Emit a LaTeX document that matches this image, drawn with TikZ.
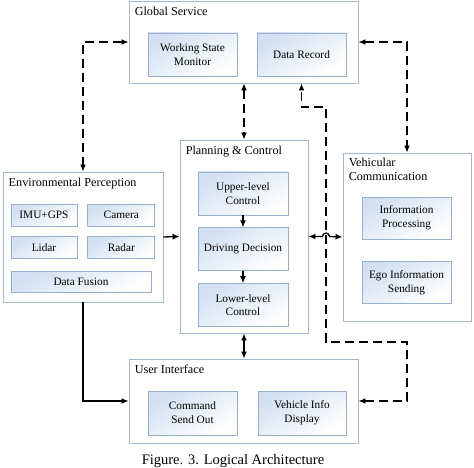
\documentclass[tikz,border=0pt]{standalone}
\usepackage{fontspec}
\setmainfont{Liberation Serif}
\usepackage{tikz}
\usetikzlibrary{positioning,arrows.meta,calc}
\definecolor{outline}{HTML}{A3B9D2}
\definecolor{inline}{HTML}{98B0CE}
\definecolor{infill}{HTML}{D2E0F2}
\tikzset{
  group/.style={draw=outline, fill=white, line width=0.9pt, inner sep=0pt},
  unit/.style={draw=inline, line width=0.8pt, top color=infill, bottom color=white, shading angle=30,
               align=center, font=\fontsize{11.3}{13.8}\selectfont, inner sep=0pt},
  ttl/.style={anchor=north west, align=left, font=\fontsize{12.2}{13.8}\selectfont, inner sep=0pt},
  flow/.style={-{Latex[length=7pt,width=6pt]}, line width=1.3pt, draw=black},
  dflow/.style={{Latex[length=7pt,width=6pt]}-{Latex[length=7pt,width=6pt]}, line width=1.3pt,
                draw=black, dash pattern=on 9pt off 5pt},
}

\begin{document}
\begin{tikzpicture}[x=1pt, y=-1pt]
  \useasboundingbox (0,0) rectangle (474,468);
  % global service
  \node[group, minimum width=229pt, minimum height=82pt] (gs) at (243.5,42) {};
  \node[ttl] at ([xshift=6pt,yshift=-6pt]gs.north west) {Global Service};
  \node[unit, minimum width=89pt, minimum height=43pt] (wsm) at (192.5,54.5) {Working State\\Monitor};
  \node[unit, minimum width=89pt, minimum height=43pt] (dr) at (301.5,54.5) {Data Record};
  % planning and control
  \node[group, minimum width=128pt, minimum height=193pt] (pc) at (244,236.5) {};
  \node[ttl] at ([xshift=6pt,yshift=-6pt]pc.north west) {Planning \& Control};
  \node[unit, minimum width=90pt, minimum height=43pt] (up) at (243,193.5) {Upper-level\\Control};
  \node[unit, minimum width=90pt, minimum height=43pt, below=12pt of up] (dd) {Driving Decision};
  \node[unit, minimum width=90pt, minimum height=43pt, below=12pt of dd] (low) {Lower-level\\Control};
  % environmental perception
  \node[group, minimum width=160pt, minimum height=130pt] (ep) at (83,237) {};
  \node[ttl] at ([xshift=6pt,yshift=-6pt]ep.north west) {Environmental Perception};
  \node[unit, minimum width=66pt, minimum height=22pt] (imu) at (44,215) {IMU+GPS};
  \node[unit, minimum width=67pt, minimum height=22pt, right=10pt of imu] (cam) {Camera};
  \node[unit, minimum width=66pt, minimum height=22pt, below=10pt of imu] (lidar) {Lidar};
  \node[unit, minimum width=67pt, minimum height=22pt, right=10pt of lidar] (radar) {Radar};
  \node[unit, minimum width=140pt, minimum height=21pt] (fus) at (81,281.5) {Data Fusion};
  % vehicular communication
  \node[group, minimum width=128pt, minimum height=168pt] (vc) at (407,237) {};
  \node[ttl] at ([xshift=6pt,yshift=-5pt]vc.north west) {Vehicular\\Communication};
  \node[unit, minimum width=89pt, minimum height=42pt] (ip) at (406.5,218) {Information\\Processing};
  \node[unit, minimum width=89pt, minimum height=42pt, below=22pt of ip] (ego) {Ego Information\\Sending};
  % user interface
  \node[group, minimum width=229pt, minimum height=84pt] (ui) at (243.5,401) {};
  \node[ttl] at ([xshift=6pt,yshift=-6pt]ui.north west) {User Interface};
  \node[unit, minimum width=89pt, minimum height=44pt] (cso) at (192.5,413) {Command\\Send Out};
  \node[unit, minimum width=88pt, minimum height=44pt] (vid) at (302,413) {Vehicle Info\\Display};
  % caption
  \node[font=\fontsize{14.5}{16}\selectfont, inner sep=0pt] (cap) at (233,461) {Figure. 3. Logical Architecture};
  % connectors
  \coordinate (k1) at (407,342);
  \coordinate (k2) at (326,107);
  \draw[dflow] (gs.west) -| (ep.north);
  \draw[dflow] (gs.east) -| (vc.north);
  \draw[dflow] (pc.north |- gs.south) -- (pc.north);
  \draw[dflow] (ui.east) -| (k1) -| (k2) -| (dr.south |- gs.south);
  \draw[flow] (up) -- (dd);
  \draw[flow] (dd) -- (low);
  \draw[flow] (ep.east) -- (pc.west);
  \draw[flow, {Latex[length=7pt,width=6pt]}-{Latex[length=7pt,width=6pt]}]
    (pc.east) -- ($(k2 |- pc.east)+(-3.5,0)$) arc[start angle=180, end angle=360, radius=3.5] -- (vc.west);
  \draw[flow, {Latex[length=7pt,width=6pt]}-{Latex[length=7pt,width=6pt]}] (pc.south) -- (pc.south |- ui.north);
  \draw[flow] (ep.south) |- (ui.west);
\end{tikzpicture}
\end{document}
